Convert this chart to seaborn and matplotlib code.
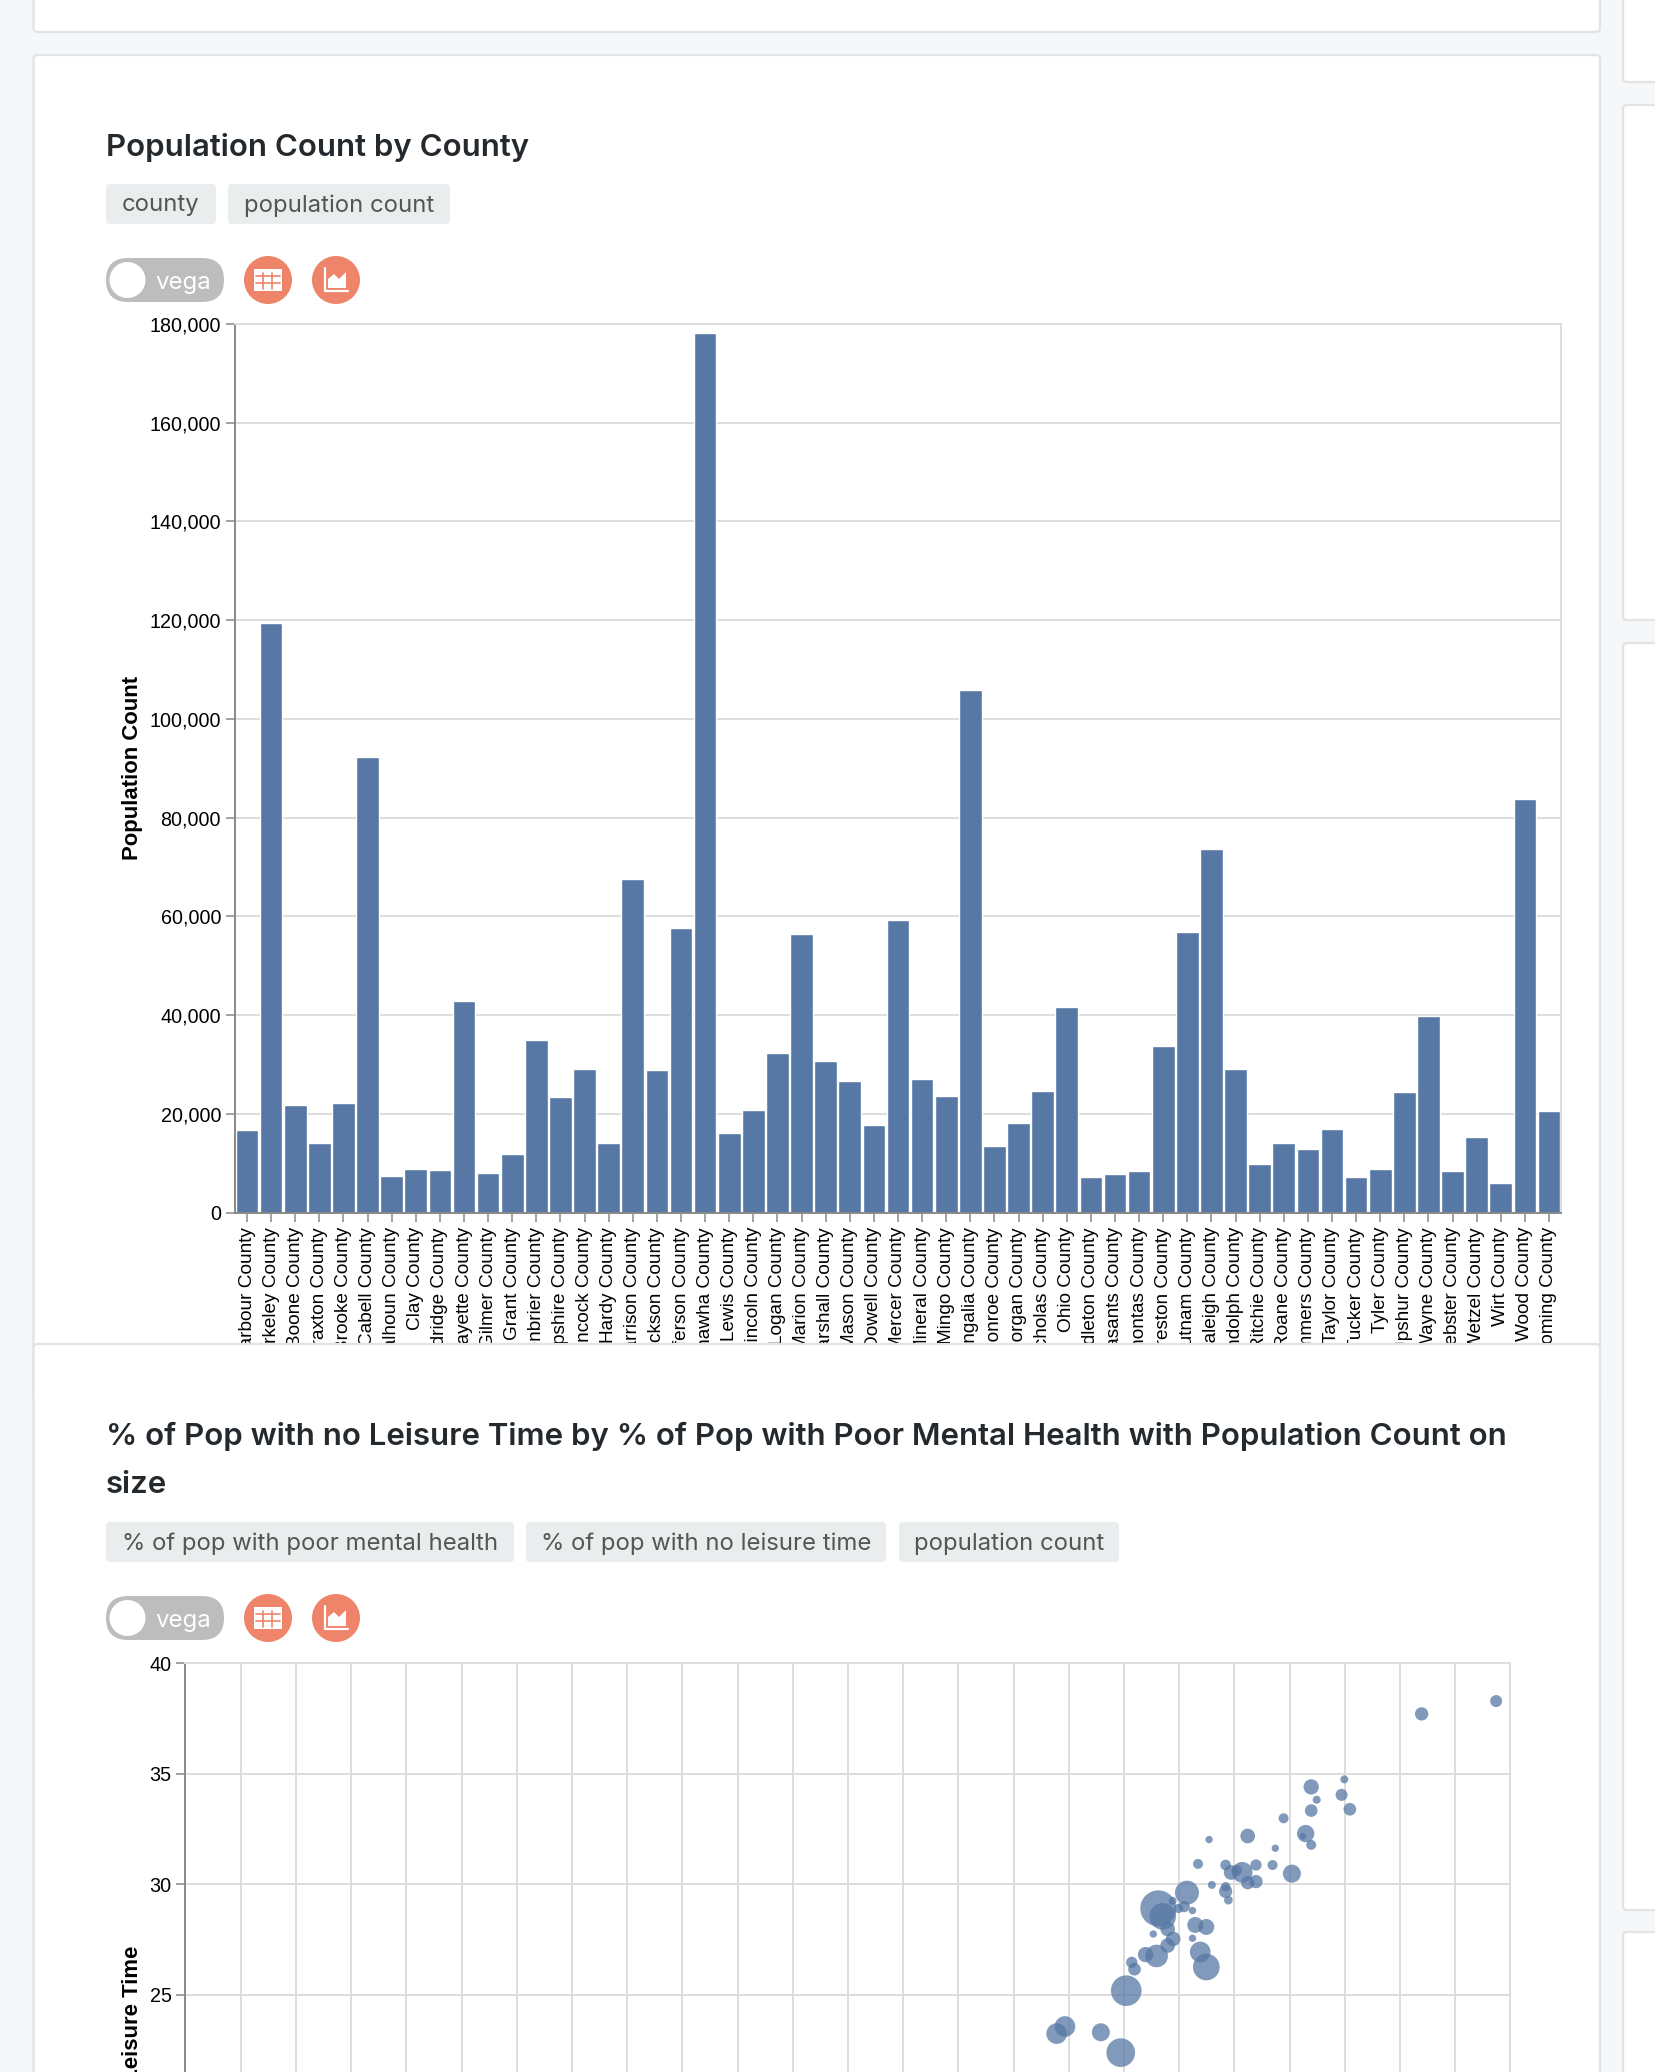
import matplotlib
matplotlib.use("Agg")
import matplotlib.pyplot as plt
from matplotlib.patches import Circle, FancyBboxPatch, Polygon, Rectangle
from matplotlib.ticker import FuncFormatter
import pandas as pd
import seaborn as sns

# -------------------------------
# Data
# -------------------------------
counties = [
    "Barbour", "Berkeley", "Boone", "Braxton", "Brooke", "Cabell", "Calhoun", "Clay", "Doddridge",
    "Fayette", "Gilmer", "Grant", "Greenbrier", "Hampshire", "Hancock", "Hardy", "Harrison",
    "Jackson", "Jefferson", "Kanawha", "Lewis", "Lincoln", "Logan", "Marion", "Marshall", "Mason",
    "McDowell", "Mercer", "Mineral", "Mingo", "Monongalia", "Monroe", "Morgan", "Nicholas", "Ohio",
    "Pendleton", "Pleasants", "Pocahontas", "Preston", "Putnam", "Raleigh", "Randolph", "Ritchie",
    "Roane", "Summers", "Taylor", "Tucker", "Tyler", "Upshur", "Wayne", "Webster", "Wetzel", "Wirt",
    "Wood", "Wyoming",
]
population = [
    16700, 119500, 21700, 14100, 22100, 92300, 7400, 8800, 8600,
    42800, 8100, 11800, 35000, 23400, 29100, 14000, 67600,
    28900, 57600, 178200, 16100, 20700, 32300, 56400, 30700, 26700,
    17800, 59200, 27100, 23700, 105900, 13500, 18100, 24700, 41700,
    7100, 7700, 8500, 33800, 56800, 73700, 29000, 9800,
    14000, 12800, 16900, 7100, 8800, 24500, 39800, 8400, 15300, 6000,
    83800, 20600,
]

poor_mental = [
    23.74, 22.39, 20.99, 20.39, 20.94, 20.49, 21.09, 20.39, 19.89, 20.29, 20.24, 20.39,
    19.24, 18.54, 19.74, 18.34, 18.84, 19.39, 19.69, 18.94, 19.04, 19.14, 20.04, 19.24,
    19.39, 18.59, 18.84, 18.84, 18.89, 18.14, 17.62, 17.70, 17.88, 18.09, 17.99, 18.24,
    18.29, 18.49, 17.79, 17.53, 17.89, 18.24, 17.79, 17.39, 17.59, 18.38, 18.49, 17.14,
    17.19, 17.04, 15.93, 15.78, 16.58, 16.94,
]
no_leisure = [
    38.28, 37.70, 34.74, 34.40, 34.04, 33.82, 33.39, 33.33, 32.98, 32.29, 32.17, 31.78,
    32.18, 32.02, 31.63, 30.92, 30.87, 30.87, 30.87, 30.53, 30.63, 30.54, 30.48, 30.07,
    30.12, 29.97, 29.89, 29.68, 29.28, 29.62, 28.91, 28.55, 29.25, 28.99, 28.91, 28.81,
    28.16, 28.07, 27.98, 27.75, 27.53, 27.56, 27.23, 26.82, 26.76, 26.94, 26.26, 26.47,
    26.16, 25.19, 23.57, 23.25, 23.31, 22.39,
]
scatter_pop = [
    19800, 24400, 8800, 32300, 19800, 8800, 22000, 22000, 13700, 41300, 6100, 13700,
    29500, 7400, 7400, 13700, 15600, 17600, 13700, 29500, 15600, 58700, 44500, 24400,
    24400, 8800, 12000, 24400, 10300, 79100, 178000, 97700, 8800, 17600, 12000, 7400,
    35200, 35200, 29500, 7400, 29500, 7400, 29500, 32300, 70600, 58700, 97700, 17600,
    22000, 129000, 58700, 58700, 44500, 112900,
]

title_1 = ["Population Count by County"]
chips_1 = ["county", "population count"]
title_2 = ["% of Pop with no Leisure Time by % of Pop with Poor Mental Health with Population Count on", "size"]
chips_2 = ["% of pop with poor mental health", "% of pop with no leisure time", "population count"]

# -------------------------------
# Page setup
# -------------------------------
W, H = 1656, 2072
sns.set_theme(style="white")
plt.rcParams["font.family"] = ["Liberation Sans", "DejaVu Sans"]

BAR = "#5778a4"
GRID = "#dddddd"
DOMAIN = "#888888"
CORAL = "#ee8469"
PAGE = "#f6f7f9"
BORDER = "#e2e3e5"

fig = plt.figure(figsize=(W / 100, H / 100), dpi=100, facecolor=PAGE)


def px_axes(left, top, right, bottom, zorder):
    return fig.add_axes([left / W, 1 - bottom / H, (right - left) / W, (bottom - top) / H], zorder=zorder)


def overlay(zorder):
    ax = fig.add_axes([0, 0, 1, 1], zorder=zorder)
    ax.set_xlim(0, W)
    ax.set_ylim(H, 0)
    ax.axis("off")
    return ax


def card(ax, x0, y0, x1, y1):
    ax.add_patch(FancyBboxPatch((x0, y0), x1 - x0, y1 - y0, boxstyle="round,pad=0,rounding_size=4",
                                fc="white", ec=BORDER, lw=1.6))


def toolbar(ax, cy):
    # toggle + two round buttons
    ax.add_patch(FancyBboxPatch((106, cy - 22), 118, 44, boxstyle="round,pad=0,rounding_size=22",
                                fc="#bdbdbd", ec="none"))
    ax.add_patch(Circle((127.5, cy), 18, fc="white", ec="none"))
    ax.text(183, cy + 2.5, "vega", color="white", fontsize=17.3, family="Inter", ha="center", va="center")
    for cx in (268, 336):
        ax.add_patch(Circle((cx, cy), 24, fc=CORAL, ec="none"))
    # table icon
    ax.add_patch(Rectangle((254.5, cy - 11), 27.5, 22, fc="white", ec="none"))
    for gx in (263.5, 272.5):
        ax.plot([gx, gx], [cy - 7, cy + 9], color=CORAL, lw=1.2)
    for gy in (cy - 4, cy + 3):
        ax.plot([256.5, 280], [gy, gy], color=CORAL, lw=1.2)
    # area chart icon
    ax.plot([325, 325, 348], [cy - 12, cy + 11, cy + 11], color="white", lw=1.6)
    ax.add_patch(Polygon([(328, cy + 8), (328, cy - 1), (334, cy - 6), (339, cy - 1), (346, cy - 8), (346, cy + 8)],
                         fc="white", ec="none"))


def header(ax, lines, chips, chip_spans, title_ys, chip_y):
    for line, y in zip(lines, title_ys):
        ax.text(106, y, line, fontsize=22.45, family="Inter", weight="semibold", color="#24292e", va="center")
    for label, (x0, x1) in zip(chips, chip_spans):
        ax.add_patch(FancyBboxPatch((x0, chip_y - 20), x1 - x0, 40, boxstyle="round,pad=0,rounding_size=4",
                                    fc="#e9eded", ec="none"))
        ax.text((x0 + x1) / 2, chip_y + 1.5, label, fontsize=17.2, family="Inter", color="#555555",
                ha="center", va="center")


def style_axes(ax):
    for side in ("top", "right"):
        ax.spines[side].set_color(GRID)
        ax.spines[side].set_linewidth(1.4)
    for side in ("left", "bottom"):
        ax.spines[side].set_color(DOMAIN)
        ax.spines[side].set_linewidth(1.4)
    ax.set_axisbelow(True)
    ax.tick_params(length=6.5, width=1.1, color=DOMAIN, labelcolor="black", labelsize=14.2, pad=3.5,
                   left=True, bottom=True)


# -------------------------------
# Backing cards
# -------------------------------
bg = overlay(0)
card(bg, 33.5, -20, 1600, 32)
card(bg, 33.5, 55, 1600, 1400)
card(bg, 1623, -20, 1700, 82)
card(bg, 1623, 105, 1700, 620)
card(bg, 1623, 643, 1700, 1910)
card(bg, 1623, 1932, 1700, 2200)
header(bg, title_1, chips_1, [(106, 216), (228, 450)], [147], 204)
toolbar(bg, 280)

# -------------------------------
# Bar chart
# -------------------------------
bars = pd.DataFrame({"county": [c + " County" for c in counties], "population": population})
ax1 = px_axes(235, 324, 1561, 1212.5, 1)
ax1.patch.set_alpha(0)
sns.barplot(data=bars, x="county", y="population", color=BAR, saturation=1, width=0.94, ax=ax1)
ax1.set_ylim(0, 180000)
ax1.set_xlim(-0.5, len(counties) - 0.5)
ax1.set_yticks(range(0, 180001, 20000))
ax1.yaxis.set_major_formatter(FuncFormatter(lambda v, _: f"{int(v):,}"))
ax1.grid(axis="y", color=GRID, lw=1.4)
style_axes(ax1)
ax1.tick_params(axis="x", labelrotation=90, labelsize=13.7, pad=4)
ax1.set_xlabel("")
ax1.set_ylabel("Population Count", fontsize=15.9, fontweight="bold", color="black", labelpad=5)

# -------------------------------
# Second card covers the cut off tick labels
# -------------------------------
top = overlay(2)
card(top, 33.5, 1344, 1600, 2200)
header(top, title_2, chips_2, [(106, 514), (526, 886), (899, 1119)], [1436, 1485], 1542)
toolbar(top, 1618)

# -------------------------------
# Bubble chart, runs past the bottom of the page
# -------------------------------
bubbles = pd.DataFrame({"mental": poor_mental, "leisure": no_leisure, "pop": scatter_pop})
ax2 = px_axes(185.5, 1663, 1510.5, 2548, 3)
ax2.patch.set_alpha(0)
sns.scatterplot(data=bubbles, x="mental", y="leisure", size="pop", sizes=(0, 672), size_norm=(0, 178000),
                color=BAR, alpha=0.75, linewidth=0, legend=False, ax=ax2)
ax2.set_xlim(0, 24)
ax2.set_ylim(0, 40)
ax2.set_xticks(range(0, 25))
ax2.set_yticks(range(25, 41, 5))
ax2.grid(True, color=GRID, lw=1.4)
style_axes(ax2)
ax2.tick_params(axis="x", labelbottom=False)
ax2.set_xlabel("")
ax2.set_ylabel("% of Pop with no Leisure Time", fontsize=15.9, fontweight="bold", color="black", labelpad=5)

fig.savefig("out.png", dpi=100, facecolor=PAGE)
